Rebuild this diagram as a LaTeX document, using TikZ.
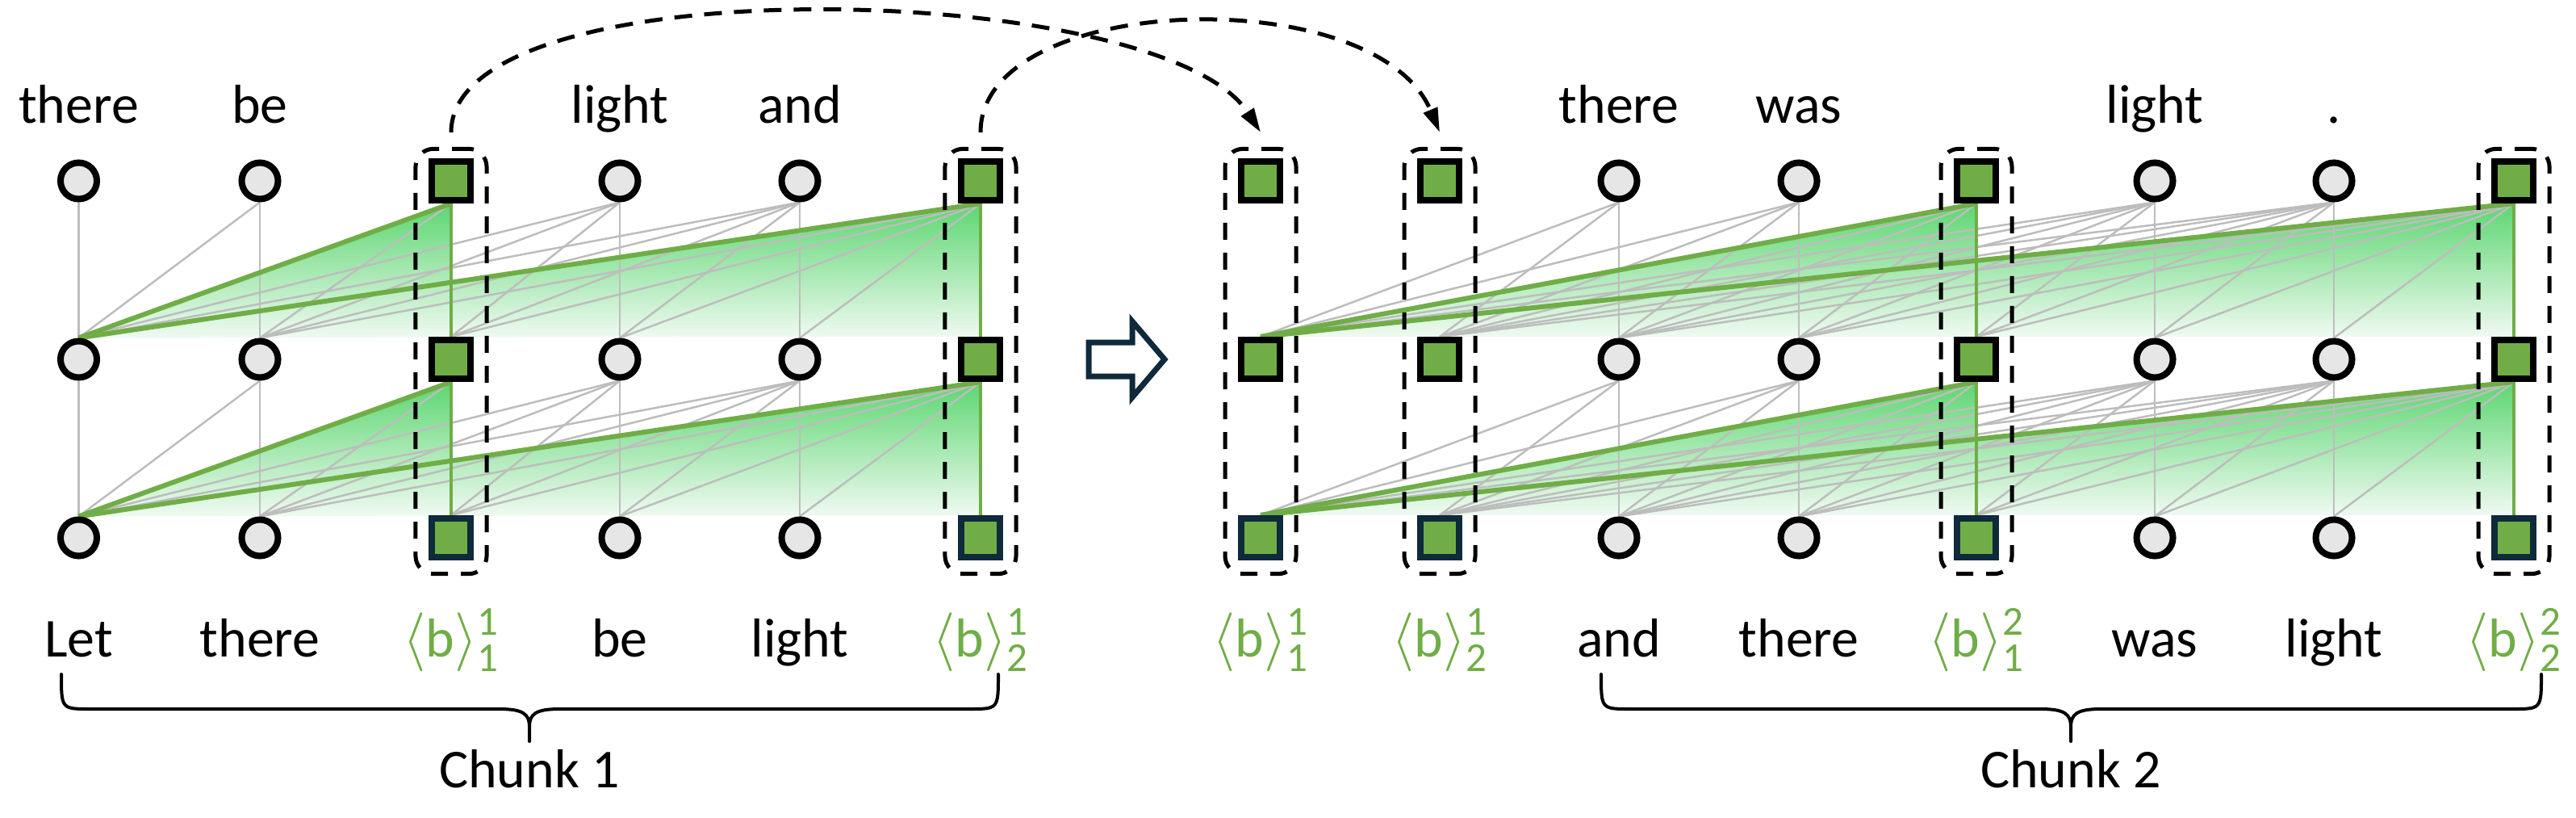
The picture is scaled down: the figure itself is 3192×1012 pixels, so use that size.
\documentclass[tikz,border=0pt]{standalone}
\usepackage{fontspec}
\setmainfont{Carlito}
\usepackage{amsmath}
\usetikzlibrary{arrows.meta}
\definecolor{bgreen}{HTML}{70AD47}
\definecolor{tokfill}{HTML}{E6E6E6}
\definecolor{navy}{HTML}{0E2A3B}
\definecolor{edgegray}{HTML}{BDBDBD}
\definecolor{gtop}{RGB}{92,214,112}
\definecolor{gbot}{RGB}{240,250,242}
\pgfdeclarelayer{shadelayer}
\pgfdeclarelayer{edgelayer}
\pgfdeclarelayer{greenlayer}
\pgfsetlayers{shadelayer,edgelayer,greenlayer,main}
\newcommand\bcn[2]{\textcolor{bgreen}{$\langle$b$\rangle^{\text{\normalsize\fontsize{14.5pt}{16pt}\selectfont #1}}_{\text{\normalsize\fontsize{14.5pt}{16pt}\selectfont #2}}$}}
\begin{document}
\begin{tikzpicture}[x=0.01cm,y=-0.01cm,
  tok/.style={circle,draw=black,fill=tokfill,line width=0.08cm,minimum size=0.45cm,inner sep=0},
  sq/.style={rectangle,draw=black,fill=bgreen,line width=0.08cm,minimum size=0.48cm,inner sep=0},
  gedge/.style={draw=edgegray,line width=0.025cm},
  gthick/.style={draw=bgreen,line width=0.06cm},
  gvert/.style={draw=bgreen,line width=0.04cm},
  gshade/.style={top color=gtop,bottom color=gbot,draw=none},
  dbox/.style={draw=black,line width=0.05cm,dash pattern=on 0.21cm off 0.16cm,rounded corners=0.22cm,minimum width=0.88cm,minimum height=5.26cm,inner sep=0},
  arcline/.style={draw=black,line width=0.05cm,dash pattern=on 0.22cm off 0.15cm,-{Triangle[length=0.3cm,width=0.18cm]}},
  lbl/.style={anchor=base,inner sep=0,font=\fontsize{19.3pt}{23pt}\selectfont},
  brc/.style={draw=black,line width=0.04cm,line cap=round},
  blockarrow/.style={draw=navy,line width=0.07cm,fill=white,line join=miter}
  ]
\useasboundingbox (0,0) rectangle (3192,1012);

% nodes
\foreach \r/\y/\dc in {0/224/black,1/445/black,2/666/navy}{
  \foreach \i/\x in {0/97.5,1/322,3/768,4/991} \node[tok] (a\r\i) at (\x,\y) {};
  \foreach \i/\x in {2/559,5/1215} \node[sq,draw=\dc] (a\r\i) at (\x,\y) {};
  \foreach \i/\x in {2/2006,3/2229,5/2670,6/2892} \node[tok] (b\r\i) at (\x,\y) {};
  \foreach \i/\x in {0/1562,1/1784,4/2449,7/3115} \node[sq,draw=\dc] (b\r\i) at (\x,\y) {};
}

% gray attention edges
\begin{pgfonlayer}{edgelayer}
\foreach \r/\s in {0/1,1/2}{
  \foreach \i in {0,...,5}{\foreach \j in {0,...,\i}{\draw[gedge] (a\r\i.south) -- (a\s\j.north);}}
  \foreach \i in {2,...,7}{\foreach \j in {0,...,\i}{\draw[gedge] (b\r\i.south) -- (b\s\j.north);}}
}
\end{pgfonlayer}

% beacon fans
\foreach \r/\s in {0/1,1/2}{
  \foreach \n/\i in {a/2,a/5,b/4,b/7}{
    \begin{pgfonlayer}{shadelayer}
      \shade[gshade] (\n\r\i.south) -- (\n\s0.north) -- (\n\s\i.north) -- cycle;
    \end{pgfonlayer}
    \begin{pgfonlayer}{greenlayer}
      \draw[gthick] (\n\r\i.south) -- (\n\s0.north);
      \draw[gvert] (\n\r\i.south) -- (\n\s\i.north);
    \end{pgfonlayer}
  }
}

% dashed boxes
\foreach \n/\x in {k1/559,k2/1215,k3/1562,k4/1784,k5/2449,k6/3115}
  \node[dbox] (\n) at (\x,447.5) {};

% copy arcs
\draw[arcline] ([yshift=0.18cm]k1.north) .. controls +(0,-209) and +(-122,-189) .. ([yshift=0.18cm]k3.north);
\draw[arcline] ([yshift=0.18cm]k2.north) .. controls +(0,-174) and +(-79,-189) .. ([yshift=0.18cm]k4.north);

% block arrow
\draw[blockarrow] (1349,424) -- (1403,424) -- (1403,398) -- (1443,445) -- (1403,492) -- (1403,466) -- (1349,466) -- cycle;

% top labels
\node[lbl] (ta0) at (97.5,152) {there};
\node[lbl] (ta1) at (322,152) {be};
\node[lbl] (ta3) at (768,152) {light};
\node[lbl] (ta4) at (991,152) {and};
\node[lbl] (tb2) at (2006,152) {there};
\node[lbl] (tb3) at (2229,152) {was};
\node[lbl] (tb5) at (2670,152) {light};
\node[lbl] (tb6) at (2892,152) {.};

% bottom labels
\node[lbl] (la0) at (97.5,813) {Let};
\node[lbl] (la1) at (322,813) {there};
\node[lbl] (la2) at (559,813) {\bcn{1}{1}};
\node[lbl] (la3) at (768,813) {be};
\node[lbl] (la4) at (991,813) {light};
\node[lbl] (la5) at (1215,813) {\bcn{1}{2}};
\node[lbl] (lb0) at (1562,813) {\bcn{1}{1}};
\node[lbl] (lb1) at (1784,813) {\bcn{1}{2}};
\node[lbl] (lb2) at (2006,813) {and};
\node[lbl] (lb3) at (2229,813) {there};
\node[lbl] (lb4) at (2449,813) {\bcn{2}{1}};
\node[lbl] (lb5) at (2670,813) {was};
\node[lbl] (lb6) at (2892,813) {light};
\node[lbl] (lb7) at (3115,813) {\bcn{2}{2}};

% braces
\draw[brc] (76,835) .. controls (76,878) .. (112,878) -- (618,878) .. controls (648,878) and (656,884) .. (656,900) -- (656,918);
\draw[brc] (1237,835) .. controls (1237,878) .. (1201,878) -- (694,878) .. controls (664,878) and (656,884) .. (656,900);
\draw[brc] (1984,835) .. controls (1984,878) .. (2020,878) -- (2528,878) .. controls (2558,878) and (2566,884) .. (2566,900) -- (2566,918);
\draw[brc] (3149,835) .. controls (3149,878) .. (3113,878) -- (2604,878) .. controls (2574,878) and (2566,884) .. (2566,900);

\node[lbl] (ch1) at (656,975) {Chunk 1};
\node[lbl] (ch2) at (2566,975) {Chunk 2};
\end{tikzpicture}
\end{document}
